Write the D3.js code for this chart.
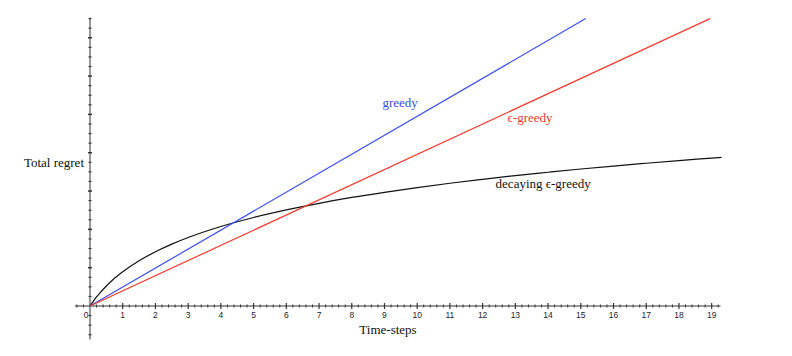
<!DOCTYPE html>
<html>
<head>
<meta charset="utf-8">
<script src="https://cdn.jsdelivr.net/npm/d3@7"></script>
<style>
  html, body { margin: 0; padding: 0; background: #fff; }
  svg { display: block; }
  .serif { font-family: 'Liberation Serif', 'Times New Roman', 'DejaVu Serif', serif; }
  .sans { font-family: 'Liberation Sans', Arial, 'DejaVu Sans', sans-serif; }
</style>
</head>
<body>
<svg id="chart" width="792" height="356"></svg>
<script>
// ---- data ----
const xTickLabels = [0,1,2,3,4,5,6,7,8,9,10,11,12,13,14,15,16,17,18,19];
const greedy = [[0,0],[15.15,30]];
const epsGreedy = [[0,0],[18.95,30]];
const decayX = [0,0.05,0.1,0.2,0.3,0.5,0.75,1,1.5,2,2.5,3,4,5,6,7,8,9,10,11,12,13,14,15,16,17,18,19,19.3];
const decayY = [0,0.25,0.49,0.94,1.35,2.09,2.89,3.57,4.72,5.66,6.46,7.15,8.30,9.24,10.03,10.72,11.33,11.87,12.36,12.81,13.22,13.61,13.96,14.30,14.61,14.90,15.18,15.44,15.52];
const seriesLabels = [
  {text: "greedy", x: 9.48, y: 20.8, color: "#3b4cf0"},
  {text: "\u03f5-greedy", x: 13.45, y: 19.2, color: "#f03a2e"},
  {text: "decaying \u03f5-greedy", x: 13.85, y: 12.3, color: "#111"}
];

const svg = d3.select("#chart");
const x = d3.scaleLinear().domain([0, 19]).range([90, 90 + 19 * 32.72]);
const y = d3.scaleLinear().domain([0, 30]).range([306, 306 - 30 * 9.58]);

const axisColor = "#333";
svg.append("line").attr("x1", x(-0.46)).attr("x2", x(19.27))
  .attr("y1", y(0)).attr("y2", y(0)).attr("stroke", axisColor).attr("stroke-width", 1);
svg.append("line").attr("x1", x(0)).attr("x2", x(0))
  .attr("y1", y(30.1)).attr("y2", y(-3.5)).attr("stroke", axisColor).attr("stroke-width", 1);

const isInt = d => Math.abs(d - Math.round(d)) < 1e-6;
// x ticks
const xMinor = d3.range(-2, 97).map(i => i / 5).filter(v => v !== 0);
svg.append("g").selectAll("line").data(xMinor).join("line")
  .attr("x1", d => x(d)).attr("x2", d => x(d))
  .attr("y1", d => y(0) - (isInt(d) ? 3 : 1.5))
  .attr("y2", d => y(0) + (isInt(d) ? 3 : 1.5))
  .attr("stroke", axisColor).attr("stroke-width", d => isInt(d) ? 1.2 : 1);

// y ticks
const yMinor = d3.range(-3, 31).filter(v => v !== 0);
svg.append("g").selectAll("line").data(yMinor).join("line")
  .attr("x1", d => x(0) - (d % 4 === 0 ? 2 : 1.5)).attr("x2", d => x(0) + (d % 4 === 0 ? 2 : 1.5))
  .attr("y1", d => y(d)).attr("y2", d => y(d))
  .attr("stroke", axisColor).attr("stroke-width", d => d % 4 === 0 ? 1.5 : 1.1);

// x tick labels
svg.append("g").selectAll("text").data(xTickLabels).join("text")
  .attr("class", "sans")
  .attr("x", d => d === 0 ? x(d) - 4 : x(d))
  .attr("y", y(0) + 12)
  .attr("text-anchor", "middle")
  .attr("font-size", 8.5)
  .attr("fill", "#223")
  .text(d => d);

// series
const line = d3.line().x(d => x(d[0])).y(d => y(d[1]));
const decaying = decayX.map((v, i) => [v, decayY[i]]);
svg.append("path").datum(decaying).attr("d", line.curve(d3.curveMonotoneX))
  .attr("fill", "none").attr("stroke", "#111").attr("stroke-width", 1.2);
const straight = d3.line().x(d => x(d[0])).y(d => y(d[1]));
svg.append("path").datum(greedy).attr("d", straight)
  .attr("fill", "none").attr("stroke", "#3b4cf0").attr("stroke-width", 1.2);
svg.append("path").datum(epsGreedy).attr("d", straight)
  .attr("fill", "none").attr("stroke", "#f03a2e").attr("stroke-width", 1.2);

// series labels
svg.append("g").selectAll("text").data(seriesLabels).join("text")
  .attr("class", "serif")
  .attr("x", d => x(d.x)).attr("y", d => y(d.y))
  .attr("text-anchor", "middle")
  .attr("font-size", 13)
  .attr("fill", d => d.color)
  .text(d => d.text);

// axis titles
svg.append("text").attr("class", "serif").attr("x", 84).attr("y", 167).attr("text-anchor", "end")
  .attr("font-size", 13).attr("fill", "#111").text("Total regret");
svg.append("text").attr("class", "serif").attr("x", 388).attr("y", 334).attr("text-anchor", "middle")
  .attr("font-size", 13).attr("fill", "#111").text("Time-steps");
</script>
</body>
</html>
